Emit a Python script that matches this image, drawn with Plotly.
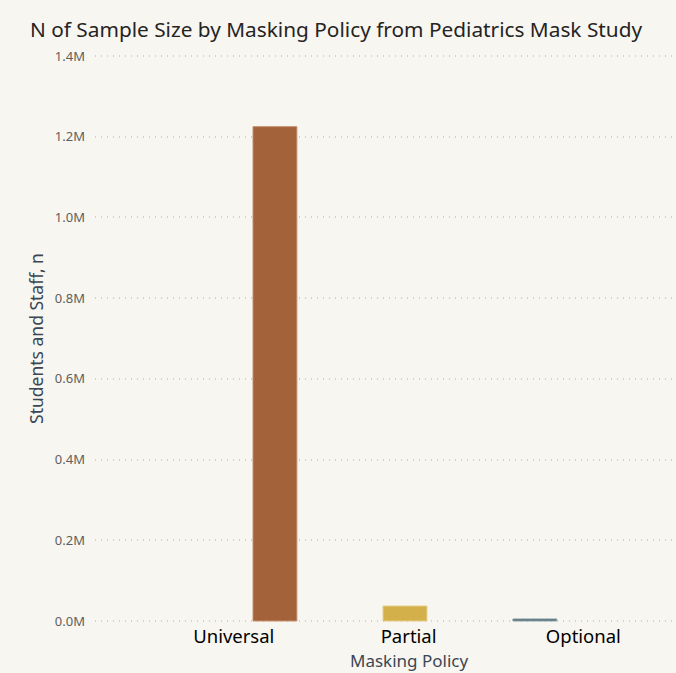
import plotly.graph_objects as go

categories = ["Universal", "Partial", "Optional"]
values = [1225000, 37000, 5000]
colors = ["#A4623A", "#D4B04B", "#4A6670"]
border_colors = ["#C4906E", "#E4CC84", "#8AA0A8"]
bar_offsets = [0.110, -0.146, -0.403]
ytick_vals = [0, 200000, 400000, 600000, 800000, 1000000, 1200000, 1400000]
ytick_text = ["0.0M", "0.2M", "0.4M", "0.6M", "0.8M", "1.0M", "1.2M", "1.4M"]

fig = go.Figure()
for cat, val, col, bcol, off in zip(categories, values, colors, border_colors, bar_offsets):
    fig.add_trace(go.Bar(
        x=[cat], y=[val], marker=dict(color=col, line=dict(color=bcol, width=1)),
        width=0.251, offset=off, showlegend=False,
        hovertemplate="%{x}: %{y}<extra></extra>",
    ))

bg = "#F8F6F1"
fig.update_layout(
    width=676, height=673,
    paper_bgcolor=bg, plot_bgcolor=bg,
    margin=dict(l=95, r=0, t=54, b=50),
    barmode="overlay",
    font=dict(family="Noto Sans, Open Sans, sans-serif"),
    title=dict(text="N of Sample Size by Masking Policy from Pediatrics Mask Study",
               x=30/676, xanchor="left", y=1-30/673, yanchor="middle",
               font=dict(size=20.8, color="#252423", family="Noto Sans, Open Sans, sans-serif")),
    xaxis=dict(type="category", categoryorder="array", categoryarray=categories,
               range=[-0.794, 2.53], showgrid=False, zeroline=False, showline=False,
               ticks="", tickfont=dict(size=18.5, color="#000000"), ticklabelstandoff=0, title=None),
    yaxis=dict(range=[-5000, 1405000], tickvals=ytick_vals, ticktext=ytick_text,
               showgrid=True, gridcolor="#D2D0CC", griddash="1px,5px", gridwidth=1.5,
               zeroline=False, showline=False, ticks="", ticklabelstandoff=9,
               tickfont=dict(size=13, color="#605E5C"),
               title=dict(text="Students and Staff, n", font=dict(size=17.5, color="#3B4752"), standoff=6)),
    annotations=[dict(text="Masking Policy", xref="paper", yref="paper",
                      x=(409-95)/581, y=-(660-623)/569, xanchor="center", yanchor="middle",
                      showarrow=False, font=dict(size=17, color="#3B4752"))],
)

fig.write_html("out.html")
